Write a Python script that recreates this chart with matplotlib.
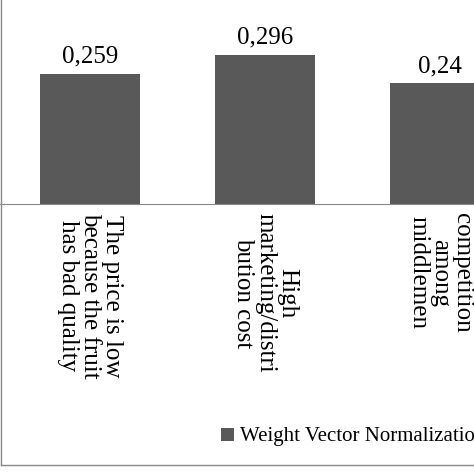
import matplotlib
matplotlib.use("Agg")
import matplotlib.pyplot as plt
from matplotlib.lines import Line2D

categories = ["The price is low\nbecause the fruit\nhas bad quality",
              "High\nmarketing/distri\nbution cost",
              "competition\namong\nmiddlemen"]
values = [0.259, 0.296, 0.24]
value_labels = ["0,259", "0,296", "0,24"]
series_name = "Weight Vector Normalization"

plt.rcParams['font.family'] = ['Liberation Serif', 'DejaVu Serif']
fig = plt.figure(figsize=(4.74, 4.74), dpi=100)
ax = fig.add_axes([0, (474-204)/474, 1, 204/474])
x = list(range(len(values)))
bars = ax.bar(x, values, width=0.577, color='#595959', label=series_name)
ax.set_xlim(-90/175, 384/175)
ax.set_ylim(0, 0.405)
for xi, v, t in zip(x, values, value_labels):
    ax.text(xi, v + 0.012, t, ha='center', va='bottom', fontsize=18)
for s in ['top', 'right', 'left']:
    ax.spines[s].set_visible(False)
ax.spines['bottom'].set_color('#888888')
ax.set_xticks([]); ax.set_yticks([])
for xi, c in zip(x, categories):
    fx = (90 + 175*xi) / 474
    fig.text(fx, (474-213)/474, c, rotation=270, ha='center', va='top',
             fontsize=18, multialignment='center', linespacing=1.0)
fig.add_artist(Line2D([0.003, 0.003], [9/474, 1], transform=fig.transFigure,
                      color='#888888', lw=1))
fig.add_artist(Line2D([0.003, 1], [9/474, 9/474], transform=fig.transFigure,
                      color='#888888', lw=1))
fig.legend(handles=[bars], labels=[series_name], loc='center',
           bbox_to_anchor=(0.745, (474-437)/474), frameon=False, fontsize=15,
           handlelength=0.6, handleheight=0.6, handletextpad=0.3)
fig.savefig("out.png", dpi=100)
